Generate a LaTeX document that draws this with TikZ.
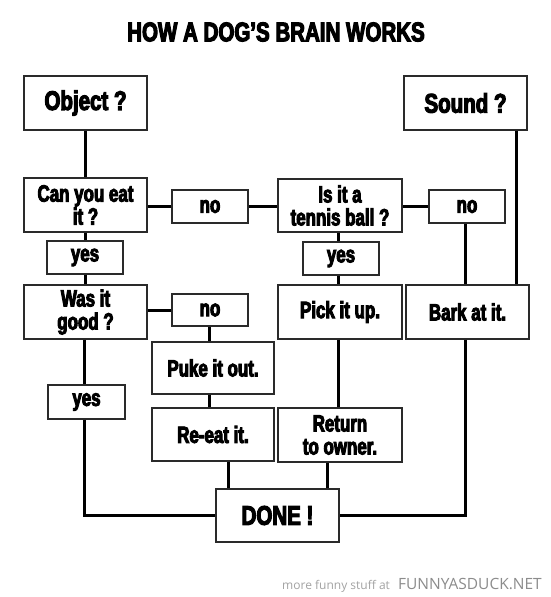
\documentclass[tikz,border=0pt]{standalone}
\usepackage{fontspec}
\newfontfamily\imp{Liberation Sans Bold}[FakeStretch=0.72, FakeBold=4]
\newfontfamily\impT{Liberation Sans Bold}[FakeStretch=0.76, FakeBold=4]
\newfontfamily\foot{Open Sans}
\definecolor{boxline}{HTML}{2A2A2A}
\definecolor{footgray}{HTML}{8C8C8C}
\tikzset{
  fbox/.style={draw=boxline, line width=1.3pt, fill=white, inner sep=0pt, align=center,
    font={\imp\fontsize{23.5}{23}\selectfont}},
  bigbox/.style={fbox, font={\impT\fontsize{27}{27}\selectfont}},
  conn/.style={draw=black, line width=3pt},
}
\begin{document}
\begin{tikzpicture}[x=1pt,y=-1pt]
\useasboundingbox (0,0) rectangle (550,597);
\fill[white] (0,0) rectangle (550,597);
% title
\node[inner sep=0pt, font={\impT\fontsize{27}{27}\selectfont}] (title) at (276,32) {HOW A DOG’S BRAIN WORKS};
% boxes
\node[bigbox, minimum width=123, minimum height=54] (obj) at (85.5,103) {Object ?};
\node[bigbox, minimum width=123, minimum height=54] (snd) at (465.5,103) {Sound ?};
\node[fbox, minimum width=123, minimum height=54] (eat) at (85.5,205) {Can you eat\\it ?};
\node[fbox, minimum width=76, minimum height=33] (no1) at (210,206.5) {no};
\node[fbox, minimum width=124, minimum height=53] (ten) at (340,205.5) {Is it a\\tennis ball ?};
\node[fbox, minimum width=76, minimum height=33] (no3) at (467,206.5) {no};
\node[fbox, minimum width=76, minimum height=33] (yes1) at (85,257.5) {yes};
\node[fbox, minimum width=76, minimum height=33] (yes2) at (341,258.5) {yes};
\node[fbox, minimum width=123, minimum height=54] (good) at (85.5,312) {Was it\\good ?};
\node[fbox, minimum width=76, minimum height=32] (no2) at (210,310) {no};
\node[fbox, minimum width=124, minimum height=54] (pick) at (340,312) {Pick it up.};
\node[fbox, minimum width=123, minimum height=54] (bark) at (467.5,312) {Bark at it.};
\node[fbox, minimum width=122, minimum height=52] (puke) at (213,368) {Puke it out.};
\node[fbox, minimum width=77, minimum height=34] (yes3) at (86.5,402) {yes};
\node[fbox, minimum width=122, minimum height=53] (reeat) at (213,434.5) {Re-eat it.};
\node[fbox, minimum width=124, minimum height=54] (ret) at (340,435) {Return\\to owner.};
\node[bigbox, minimum width=123, minimum height=53] (done) at (277.5,515.5) {DONE !};
% connectors
\draw[conn] (obj.south) -- (obj.south |- eat.north);
\draw[conn] (eat.south) -- (eat.south |- yes1.north);
\draw[conn] (yes1.south) -- (yes1.south |- good.north);
\draw[conn] (no1.west) -- (no1.west -| eat.east);
\draw[conn] (no1.east) -- (no1.east -| ten.west);
\draw[conn] (no3.west) -- (no3.west -| ten.east);
\draw[conn] ([xshift=-2pt]no3.south) -- ([xshift=-2pt]no3.south |- bark.north);
\draw[conn] ([xshift=50.5pt]snd.south) -- ([xshift=48.5pt]bark.north);
\draw[conn] (no2.west) -- (no2.west -| good.east);
\draw[conn] ([xshift=-1pt]no2.south) -- ([xshift=-1pt]no2.south |- puke.north);
\draw[conn] ([xshift=-4pt]puke.south) -- ([xshift=-4pt]puke.south |- reeat.north);
\draw[conn] ([xshift=15pt]reeat.south) -- ([xshift=15pt]reeat.south |- done.north);
\draw[conn] ([xshift=-2pt]ten.south) -- ([xshift=-2pt]ten.south |- yes2.north);
\draw[conn] ([xshift=-3pt]yes2.south) -- ([xshift=-3pt]yes2.south |- pick.north);
\draw[conn] ([xshift=-2pt]pick.south) -- ([xshift=-2pt]pick.south |- ret.north);
\draw[conn] ([xshift=-13pt]ret.south) -- ([xshift=-13pt]ret.south |- done.north);
\draw[conn] ([xshift=-1.5pt]good.south) -- ([xshift=-1.5pt]good.south |- yes3.north);
\draw[conn] ([xshift=-2.5pt]yes3.south) |- (done.west);
\draw[conn] ([xshift=-2.5pt]bark.south) |- (done.east);
% footer
\node[anchor=base west, inner sep=0pt, text=footgray!80, font={\foot\fontsize{12}{14}\selectfont}] (ft1) at (282,589) {more funny stuff at};
\node[anchor=base east, inner sep=0pt, text=footgray, font={\foot\fontsize{15.5}{18}\selectfont}] (ft2) at (542,589) {FUNNYASDUCK.NET};
\end{tikzpicture}
\end{document}
